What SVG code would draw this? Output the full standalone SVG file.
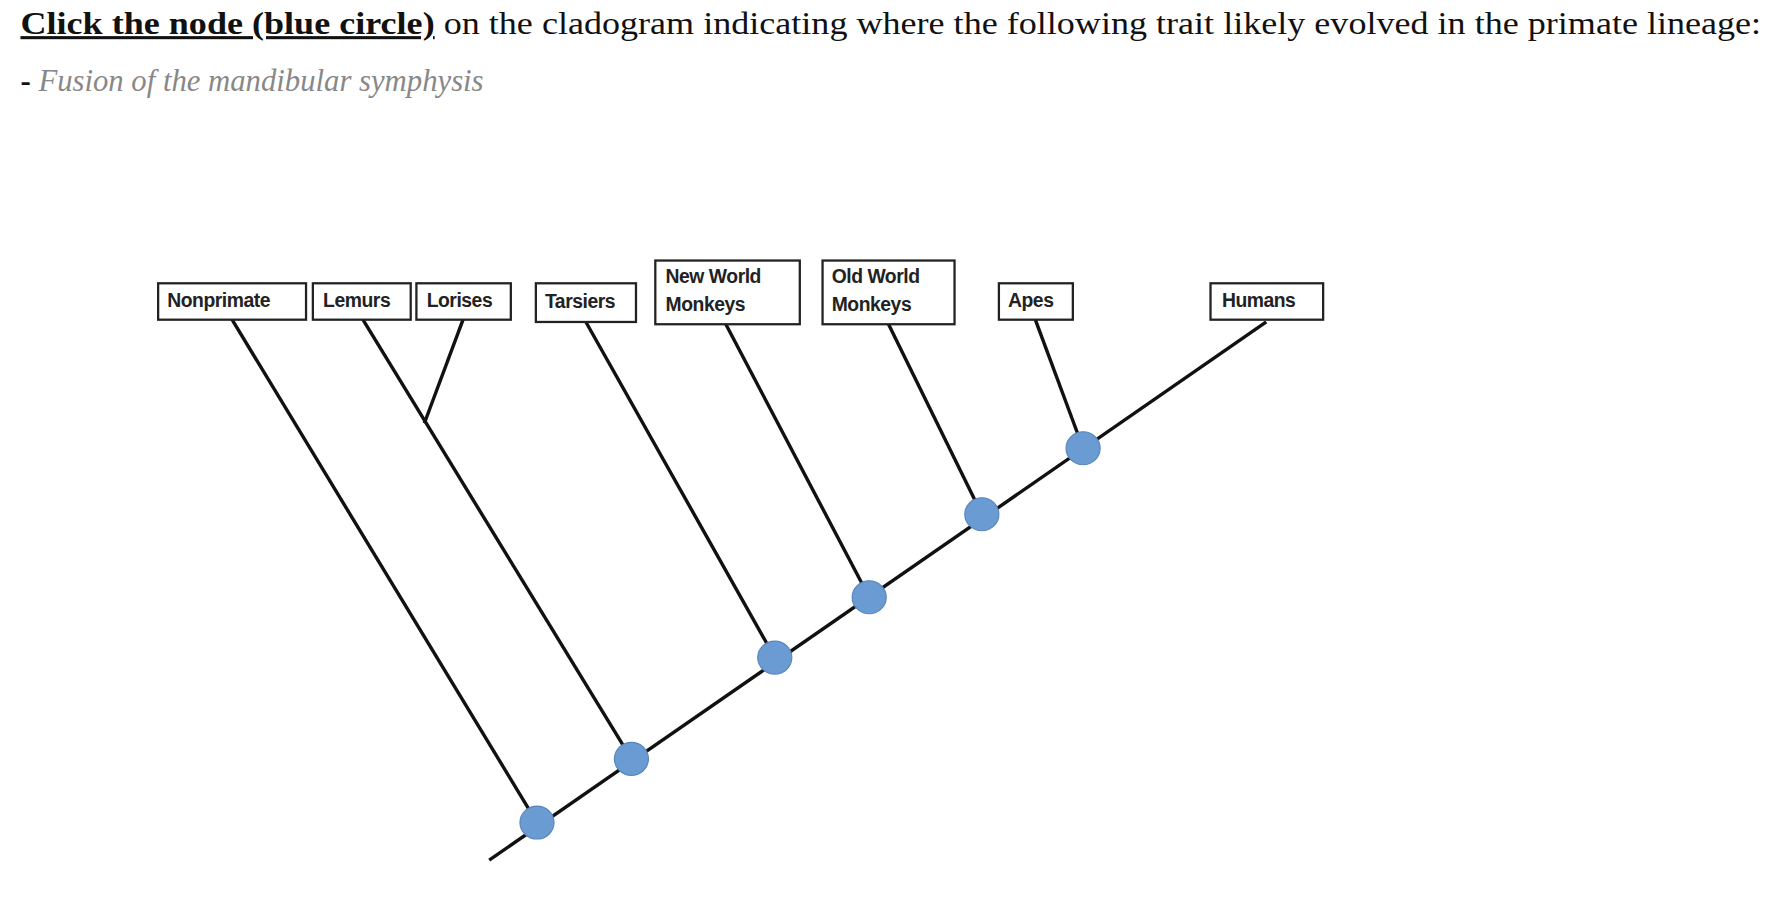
<svg xmlns="http://www.w3.org/2000/svg" width="1768" height="898" viewBox="0 0 1768 898">
<style>
.box{fill:#fff;stroke:#222;stroke-width:2}
.lab{font-family:"Liberation Sans",Arial,sans-serif;font-weight:bold;font-size:17px;fill:#222;letter-spacing:-0.4px}
.br{stroke:#111;stroke-width:3;fill:none}
.nd{fill:#6a9bd3;stroke:#5a87bb;stroke-width:1}
</style>
<rect width="1768" height="898" fill="#fff"/>
<g transform="scale(1.1377)">
<g id="title">
<text x="18" y="30" font-family="'Liberation Serif','DejaVu Serif',serif" font-size="27" fill="#111" textLength="1530" lengthAdjust="spacingAndGlyphs"><tspan font-weight="bold" text-decoration="underline">Click the node (blue circle)</tspan> on the cladogram indicating where the following trait likely evolved in the primate lineage:</text>
<text x="18" y="80" font-family="'Liberation Serif','DejaVu Serif',serif" font-size="27"><tspan font-weight="bold" fill="#111">- </tspan><tspan font-style="italic" fill="#888">Fusion of the mandibular symphysis</tspan></text>
</g>
<g id="connectors">
<line class="br" x1="430" y1="756" x2="1113" y2="283"/>
<line class="br" x1="204" y1="281" x2="472" y2="723"/>
<line class="br" x1="319" y1="281" x2="555" y2="667"/>
<line class="br" x1="407" y1="281" x2="373" y2="372"/>
<line class="br" x1="515" y1="283" x2="681" y2="578"/>
<line class="br" x1="638" y1="285" x2="764" y2="525"/>
<line class="br" x1="781" y1="285" x2="863" y2="452"/>
<line class="br" x1="910" y1="281" x2="952" y2="394"/>
</g>
<g id="n1"><ellipse class="nd" cx="472" cy="723" rx="15" ry="14.5"/></g>
<g id="n2"><ellipse class="nd" cx="555" cy="667" rx="15" ry="14.5"/></g>
<g id="n3"><ellipse class="nd" cx="681" cy="578" rx="15" ry="14.5"/></g>
<g id="n4"><ellipse class="nd" cx="764" cy="525" rx="15" ry="14.5"/></g>
<g id="n5"><ellipse class="nd" cx="863" cy="452" rx="15" ry="14.5"/></g>
<g id="n6"><ellipse class="nd" cx="952" cy="394" rx="15" ry="14.5"/></g>
<g id="nonprimate"><rect class="box" x="139" y="249" width="130" height="32"/><text class="lab" x="147" y="270">Nonprimate</text></g>
<g id="lemurs"><rect class="box" x="275" y="249" width="86" height="32"/><text class="lab" x="284" y="270">Lemurs</text></g>
<g id="lorises"><rect class="box" x="366" y="249" width="83" height="32"/><text class="lab" x="375" y="270">Lorises</text></g>
<g id="tarsiers"><rect class="box" x="471" y="249" width="88" height="34"/><text class="lab" x="479" y="271">Tarsiers</text></g>
<g id="nwm"><rect class="box" x="576" y="229" width="127" height="56"/><text class="lab" x="585" y="249">New World</text><text class="lab" x="585" y="273">Monkeys</text></g>
<g id="owm"><rect class="box" x="723" y="229" width="116" height="56"/><text class="lab" x="731" y="249">Old World</text><text class="lab" x="731" y="273">Monkeys</text></g>
<g id="apes"><rect class="box" x="878" y="249" width="65" height="32"/><text class="lab" x="886" y="270">Apes</text></g>
<g id="humans"><rect class="box" x="1064" y="249" width="99" height="32"/><text class="lab" x="1074" y="270">Humans</text></g>
</g>
</svg>
